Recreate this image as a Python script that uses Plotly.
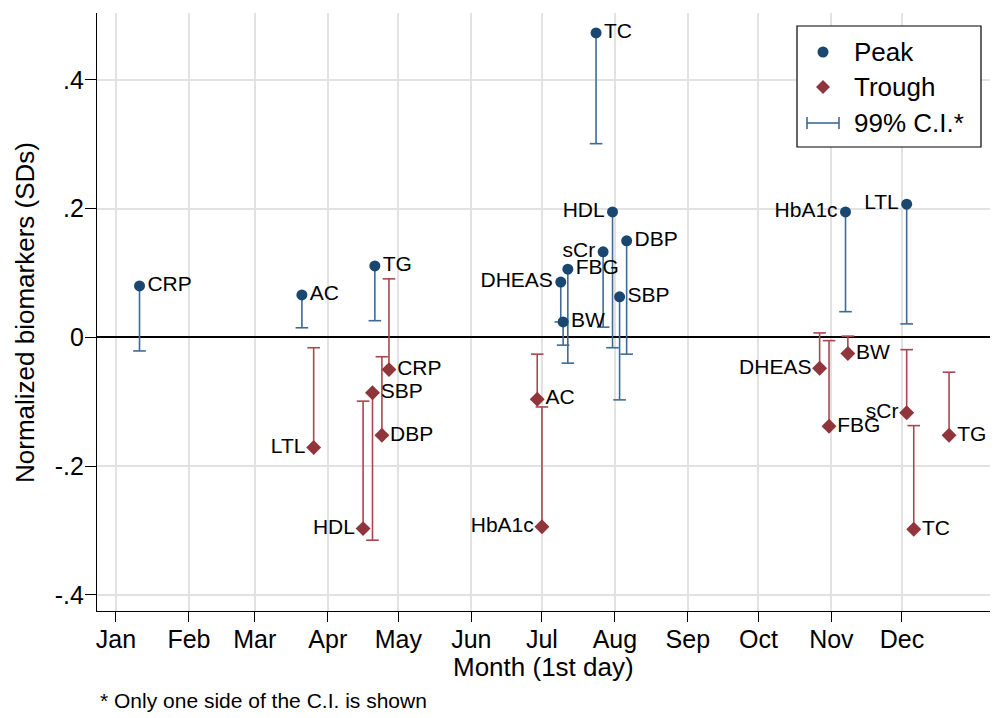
import pandas as pd
import plotly.graph_objects as go

# --- data ---
YEAR = 2021
month_starts = [f"{YEAR}-{m:02d}-01" for m in range(1, 13)]
month_labels = ["Jan", "Feb", "Mar", "Apr", "May", "Jun",
                "Jul", "Aug", "Sep", "Oct", "Nov", "Dec"]

peak_names = ["CRP", "AC", "TG", "TC", "HDL", "DBP", "sCr",
              "FBG", "DHEAS", "BW", "SBP", "HbA1c", "LTL"]
peak_dates = ["2021-01-11", "2021-03-21", "2021-04-21", "2021-07-24", "2021-07-31",
              "2021-08-06", "2021-07-27", "2021-07-12", "2021-07-09", "2021-07-10",
              "2021-08-03", "2021-11-07", "2021-12-03"]
peak_vals = [0.080, 0.066, 0.111, 0.473, 0.195, 0.150, 0.133,
             0.106, 0.086, 0.024, 0.063, 0.195, 0.207]
peak_ci = [-0.021, 0.015, 0.026, 0.301, -0.016, -0.026, 0.016,
           -0.040, 0.024, -0.012, -0.097, 0.040, 0.021]

trough_names = ["LTL", "CRP", "SBP", "HDL", "DBP", "AC", "HbA1c",
                "DHEAS", "FBG", "BW", "sCr", "TC", "TG"]
trough_dates = ["2021-03-26", "2021-04-27", "2021-04-20", "2021-04-16", "2021-04-24",
                "2021-06-29", "2021-07-01", "2021-10-27", "2021-10-31", "2021-11-08",
                "2021-12-03", "2021-12-06", "2021-12-21"]
trough_vals = [-0.171, -0.050, -0.086, -0.297, -0.152, -0.096, -0.294,
               -0.048, -0.138, -0.025, -0.117, -0.298, -0.152]
trough_ci = [-0.016, 0.091, -0.315, -0.099, -0.030, -0.026, -0.108,
             0.007, -0.005, 0.002, -0.019, -0.137, -0.054]

# labels drawn on the left of the marker
left_peak = {"HDL", "sCr", "DHEAS", "HbA1c", "LTL"}
left_trough = {"LTL", "HDL", "HbA1c", "DHEAS", "sCr"}

# --- style ---
BLUE = "#1a476f"
BLUE_CI = "#3d6b96"
RED = "#90353b"
RED_CI = "#a8474f"
FONT = "Liberation Sans, Arial, Helvetica, sans-serif"

W, H = 1000, 718
OFF = 8  # default body margin of the html page shifts everything by 8px
# plot area in screen pixels
PX0, PX1, PY0, PY1 = 97, 990, 13, 611
L, T = PX0 - OFF, PY0 - OFF
R, B = W + OFF - PX1, H + OFF - PY1
PW, PH = PX1 - PX0, PY1 - PY0


def pp(x, y):
    """screen pixel -> paper coords"""
    return (x - PX0) / PW, (PY1 - y) / PH


def ci_segments(dates, vals, ci):
    xs, ys = [], []
    for d, v, c in zip(dates, vals, ci):
        xs += [d, d, None]
        ys += [v, c, None]
    return xs, ys


fig = go.Figure()

for dates, vals, ci, col in [(peak_dates, peak_vals, peak_ci, BLUE_CI),
                             (trough_dates, trough_vals, trough_ci, RED_CI)]:
    sx, sy = ci_segments(dates, vals, ci)
    fig.add_trace(go.Scatter(x=sx, y=sy, mode="lines", line=dict(color=col, width=1.6),
                             showlegend=False, hoverinfo="skip"))
    fig.add_trace(go.Scatter(x=dates, y=ci, mode="markers",
                             marker=dict(symbol="line-ew", size=9, line=dict(color=col, width=1.6)),
                             showlegend=False, hoverinfo="skip"))

fig.add_trace(go.Scatter(
    x=peak_dates, y=peak_vals, mode="markers+text", name="Peak",
    text=peak_names,
    textposition=["middle left" if n in left_peak else "middle right" for n in peak_names],
    textfont=dict(size=21, color="black", family=FONT),
    marker=dict(symbol="circle", size=11, color=BLUE),
    showlegend=False))

fig.add_trace(go.Scatter(
    x=trough_dates, y=trough_vals, mode="markers+text", name="Trough",
    text=trough_names,
    textposition=["middle left" if n in left_trough else "middle right" for n in trough_names],
    textfont=dict(size=21, color="black", family=FONT),
    marker=dict(symbol="diamond", size=11.5, color=RED),
    showlegend=False))

# --- hand made legend box ---
shapes = []
x0, y0 = pp(797, 147)
x1, y1 = pp(981, 26)
shapes.append(dict(type="rect", xref="paper", yref="paper", x0=x0, y0=y0, x1=x1, y1=y1,
                   line=dict(color="black", width=1.2), fillcolor="white", layer="above"))
cx0, cy0 = pp(817.5, 57.5)
cx1, cy1 = pp(828.5, 46.5)
shapes.append(dict(type="circle", xref="paper", yref="paper", x0=cx0, y0=cy0, x1=cx1, y1=cy1,
                   line=dict(color=BLUE, width=0), fillcolor=BLUE, layer="above"))
dpts = [pp(823, 80), pp(830, 87), pp(823, 94), pp(816, 87)]
path = "M " + " L ".join(f"{a},{b}" for a, b in dpts) + " Z"
shapes.append(dict(type="path", xref="paper", yref="paper", path=path,
                   line=dict(color=RED, width=0), fillcolor=RED, layer="above"))
for (ax, ay), (bx, by) in [((807, 123), (839, 123)), ((807, 117), (807, 129)), ((839, 117), (839, 129))]:
    a0, b0 = pp(ax, ay)
    a1, b1 = pp(bx, by)
    shapes.append(dict(type="line", xref="paper", yref="paper", x0=a0, y0=b0, x1=a1, y1=b1,
                       line=dict(color=BLUE_CI, width=1.6), layer="above"))

annotations = []
for txt, py in [("Peak", 52), ("Trough", 87), ("99% C.I.*", 123)]:
    ax, ay = pp(852, py)
    annotations.append(dict(text=txt, x=ax, y=ay, xref="paper", yref="paper",
                            xanchor="left", yanchor="middle", showarrow=False,
                            font=dict(size=26, color="black", family=FONT)))
fx, fy = pp(98, 700)
annotations.append(dict(text="* Only one side of the C.I. is shown", x=fx, y=fy,
                        xref="paper", yref="paper", xanchor="left", yanchor="middle",
                        showarrow=False, font=dict(size=21, color="black", family=FONT)))
# axis titles
tx, ty = pp(543, 667)
annotations.append(dict(text="Month (1st day)", x=0.5, y=ty, xref="paper", yref="paper",
                        xanchor="center", yanchor="middle", showarrow=False,
                        font=dict(size=26, color="black", family=FONT)))
tx, ty = pp(25, 313)
annotations.append(dict(text="Normalized biomarkers (SDs)", x=tx, y=ty, xref="paper", yref="paper",
                        xanchor="center", yanchor="middle", showarrow=False, textangle=-90,
                        font=dict(size=26, color="black", family=FONT)))

start = pd.Timestamp(f"{YEAR}-01-01")
xr = [start + pd.Timedelta(days=-8.07), start + pd.Timedelta(days=371.4)]

fig.update_layout(
    width=W, height=H,
    margin=dict(l=L, r=R, t=T, b=B),
    plot_bgcolor="white", paper_bgcolor="white",
    font=dict(family=FONT, color="black"),
    showlegend=False,
    shapes=shapes, annotations=annotations,
    xaxis=dict(
        type="date", range=xr, automargin=False,
        tickvals=month_starts, ticktext=month_labels,
        showgrid=True, gridcolor="#e2e2e2", gridwidth=1.8,
        showline=True, linecolor="black", linewidth=1.3,
        ticks="outside", ticklen=10, tickcolor="black", tickwidth=1.3,
        tickfont=dict(size=25), ticklabelstandoff=-4,
        zeroline=False,
    ),
    yaxis=dict(
        range=[-0.425, 0.504], automargin=False,
        tickvals=[-0.4, -0.2, 0, 0.2, 0.4],
        ticktext=["-.4", "-.2", "0", ".2", ".4"],
        showgrid=True, gridcolor="#e2e2e2", gridwidth=1.8,
        showline=True, linecolor="black", linewidth=1.3,
        ticks="outside", ticklen=11, tickcolor="black", tickwidth=1.3,
        tickfont=dict(size=25), ticklabelstandoff=-4,
        zeroline=True, zerolinecolor="black", zerolinewidth=1.8,
    ),
)

fig.write_html("out.html")
